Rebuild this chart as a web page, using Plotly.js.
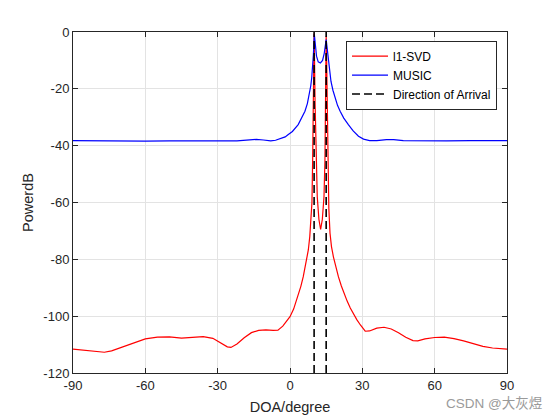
<!DOCTYPE html>
<html>
<head>
<meta charset="utf-8">
<script src="https://cdn.plot.ly/plotly-3.0.1.min.js"></script>
<style>html,body{margin:0;padding:0;background:#fff;}#chart{width:560px;height:420px;}</style>
</head>
<body>
<div id="chart"></div>
<script>
// l1-SVD spectrum
const svdAngle = [-90,-85,-80,-77,-74,-70,-65,-60,-55,-50,-45,-40,-36,-32,-29,-26,-24.5,-22,-19,-16,-13,-10,-7,-5,-3,-1,0,1.5,3,4.5,5.5,6.5,7.6,8.2,8.7,9.1,9.4,9.7,9.9,10,10.1,10.4,10.8,11.3,12,12.7,13.4,14.1,14.5,14.8,15,15.2,15.5,15.8,16.1,16.6,17.2,18,19,20.1,21.3,22.5,23.7,25,26.3,27.7,29.2,30.3,31.2,33,36,39,42,45,48,51,53,56,60,64,68,72,76,80,84,87,90];
const svdPower = [-111.6,-112.0,-112.6,-112.7,-112.2,-111.0,-109.3,-108.0,-107.4,-107.3,-107.7,-107.5,-107.2,-107.8,-109.3,-110.8,-111.0,-109.8,-107.6,-105.8,-105.0,-104.8,-105.0,-104.9,-103.5,-101.5,-100.2,-97.5,-93.8,-89.5,-86.1,-81.5,-76.7,-72,-66.1,-60,-45,-25,-8,-0.5,-5,-25,-45,-58,-66,-69.5,-66,-58,-45,-25,-1.5,-10,-30,-50,-62,-70.8,-75.5,-79.1,-83,-86.2,-89.4,-92.2,-94.7,-97.1,-99.2,-101.2,-103.1,-104.5,-105.3,-105.2,-104.2,-103.9,-104.5,-105.8,-107.4,-108.6,-108.7,-108.0,-107.5,-107.4,-107.9,-108.7,-109.6,-110.6,-111.2,-111.5,-111.6];
// MUSIC spectrum
const musicAngle = [-90,-80,-70,-60,-50,-40,-30,-22,-17,-14,-11,-8,-6,-4,-2,-0.7,1,3.4,5,6.2,7.2,8,8.6,9,9.4,9.7,10.1,10.5,11,11.7,12.6,13.5,14.2,15,15.4,15.9,16.4,17,17.8,18.7,19.7,20.8,22.3,24.2,26.2,28.4,30.5,33,36,40,43,47,55,65,75,90];
const musicPower = [-38.2,-38.3,-38.2,-38.4,-38.3,-38.2,-38.3,-38.3,-38.0,-37.8,-38.0,-38.3,-38.1,-37.6,-36.9,-36.1,-35,-32.6,-30.2,-27.9,-25.2,-22.1,-19,-16.2,-12,-8.0,-0.9,-5,-8.5,-10.5,-10.9,-10,-7.5,-2.7,-6,-10.3,-14,-17.4,-20.5,-23.2,-25.8,-27.9,-30.3,-32.6,-34.8,-36.7,-37.7,-38.2,-38.2,-37.9,-37.9,-38.2,-38.3,-38.3,-38.2,-38.2];
// true directions of arrival
const doaAngles = [10, 15];
const xTicks = [-90,-60,-30,0,30,60,90];
const yTicks = [-120,-100,-80,-60,-40,-20,0];
const yRange = [-120, 0];

const doaX = [], doaY = [];
doaAngles.forEach(a => { doaX.push(a, a, null); doaY.push(yRange[0], yRange[1], null); });

const traces = [
  {x: svdAngle, y: svdPower, type: 'scatter', mode: 'lines', name: 'l1-SVD', line: {color: 'rgb(255,0,0)', width: 1.2}},
  {x: musicAngle, y: musicPower, type: 'scatter', mode: 'lines', name: 'MUSIC', line: {color: 'rgb(0,0,255)', width: 1.2}},
  {x: doaX, y: doaY, type: 'scatter', mode: 'lines', name: 'Direction of Arrival', line: {color: '#000000', width: 1.6, dash: '8px,4px'}, connectgaps: false}
];

const FONT = 'Liberation Sans, Arial, sans-serif';
const axisCommon = {
  showline: true, mirror: 'ticks', linecolor: '#262626', linewidth: 1,
  ticks: 'inside', ticklen: 5, tickcolor: '#262626',
  showgrid: true, gridcolor: '#e3e3e3', gridwidth: 1, zeroline: false,
  tickfont: {family: FONT, size: 13, color: '#262626'}
};

const layout = {
  width: 560, height: 420,
  margin: {l: 73, r: 53, t: 32, b: 47},
  paper_bgcolor: '#ffffff', plot_bgcolor: '#ffffff',
  showlegend: true,
  xaxis: Object.assign({}, axisCommon, {
    range: [-90, 90], tickvals: xTicks, ticktext: xTicks.map(String),
    title: {text: 'DOA/degree', font: {family: FONT, size: 14.5, color: '#262626'}, standoff: 10}
  }),
  yaxis: Object.assign({}, axisCommon, {
    range: yRange, tickvals: yTicks, ticktext: yTicks.map(String),
    title: {text: 'PowerdB', font: {family: FONT, size: 14.5, color: '#262626'}, standoff: 6}
  }),
  legend: {
    x: 0.977, y: 0.975, xanchor: 'right', yanchor: 'top',
    bgcolor: '#ffffff', bordercolor: '#262626', borderwidth: 1,
    font: {family: FONT, size: 12, color: '#000000'},
    tracegroupgap: 0, itemwidth: 36
  },
  annotations: [{
    text: 'CSDN @大灰煜', xref: 'paper', yref: 'paper', x: 1.085, y: -0.088,
    xanchor: 'right', yanchor: 'middle', showarrow: false,
    font: {family: 'Liberation Sans, Noto Sans CJK SC, sans-serif', size: 13.5, color: '#9a9a9a'}
  }]
};

Plotly.newPlot('chart', traces, layout, {staticPlot: true, displayModeBar: false});
</script>
</body>
</html>
